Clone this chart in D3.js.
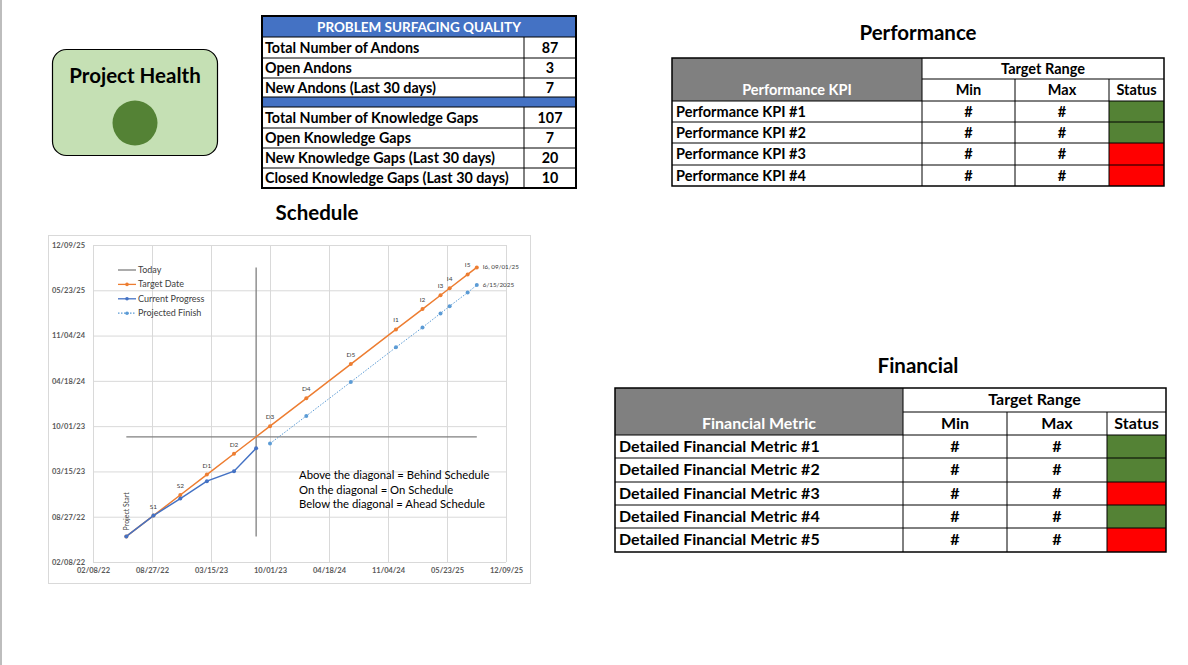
<!DOCTYPE html>
<html>
<head>
<meta charset="utf-8">
<script src="https://cdn.jsdelivr.net/npm/d3@7"></script>
<style>
  body { margin: 0; background: #fff; }
  svg { display: block; font-family: Lato, "Open Sans", sans-serif; }
</style>
</head>
<body>
<div id="chart"></div>
<script>
// ---- data ----
const tickDates = ["02/08/22", "08/27/22", "03/15/23", "10/01/23", "04/18/24", "11/04/24", "05/23/25", "12/09/25"]

const milestones = ["Project Start", "S1", "S2", "D1", "D2", "D3", "D4", "D5", "I1", "I2", "I3", "I4", "I5", "I6"]
const targetDates = ["06/01/22", "09/01/22", "12/01/22", "03/01/23", "06/01/23", "10/01/23", "02/01/24",
    "07/01/24", "12/01/24", "03/01/25", "05/01/25", "06/01/25", "08/01/25", "09/01/25"]

const todayDate = "08/15/23"
const progressX = ["06/01/22", "09/01/22", "12/01/22", "03/01/23", "06/01/23", "08/15/23"]
const progressY = ["06/01/22", "09/01/22", "11/15/22", "01/31/23", "03/16/23", "06/25/23"]

const projectedX = ["10/01/23", "02/01/24", "07/01/24", "12/01/24", "03/01/25", "05/01/25", "06/01/25", "08/01/25", "09/01/25"]
const projectedY = ["07/16/23", "11/15/23", "04/13/24", "09/13/24", "12/10/24", "02/10/25", "03/14/25", "05/13/25", "06/15/25"]

const legendNames = ["Today", "Target Date", "Current Progress", "Projected Finish"]
const notes = ["Above the diagonal = Behind Schedule", "On the diagonal = On Schedule", "Below the diagonal = Ahead Schedule"]

const psqLabels1 = ["Total Number of Andons", "Open Andons", "New Andons (Last 30 days)"]
const psqValues1 = [87, 3, 7]
const psqLabels2 = ["Total Number of Knowledge Gaps", "Open Knowledge Gaps", "New Knowledge Gaps (Last 30 days)", "Closed Knowledge Gaps (Last 30 days)"]
const psqValues2 = [107, 7, 20, 10]

const perfNames = ["Performance KPI #1", "Performance KPI #2", "Performance KPI #3", "Performance KPI #4"]
const perfStatus = ["good", "good", "bad", "bad"]
const finNames = ["Detailed Financial Metric #1", "Detailed Financial Metric #2", "Detailed Financial Metric #3",
    "Detailed Financial Metric #4", "Detailed Financial Metric #5"]
const finStatus = ["good", "good", "bad", "good", "bad"]

const statusColor = { good: "#548235", bad: "#FF0000" }

// ---- page ----
const svg = d3.select("#chart").append("svg")
    .attr("width", 1188)
    .attr("height", 665)

svg.append("rect").attr("width", 1188).attr("height", 665).attr("fill", "#fff")
svg.append("line").attr("x1", 1).attr("x2", 1).attr("y1", 0).attr("y2", 665)
    .attr("stroke", "#bdbdbd").attr("stroke-width", 2)

// project health box
svg.append("rect")
    .attr("x", 52.5).attr("y", 49.5).attr("width", 165).attr("height", 106).attr("rx", 14)
    .attr("fill", "#C5E0B4").attr("stroke", "#000").attr("stroke-width", 1.2)
svg.append("text").attr("x", 135).attr("y", 83).attr("text-anchor", "middle")
    .attr("font-size", 20.5).attr("font-weight", "bold").text("Project Health")
svg.append("circle").attr("cx", 135).attr("cy", 123).attr("r", 22.5).attr("fill", "#548235")

// section titles
const titles = [["Performance", 918, 40], ["Schedule", 317, 220], ["Financial", 918, 373]]
svg.selectAll("text.title").data(titles).enter().append("text")
    .attr("class", "title")
    .attr("x", d => d[1]).attr("y", d => d[2])
    .attr("text-anchor", "middle").attr("font-size", 20.5).attr("font-weight", "bold")
    .text(d => d[0])

// ---- problem surfacing quality table ----
const psq = svg.append("g")
const psqL = 262, psqR = 576, psqV = 524
const psqRows1 = [37, 58, 78, 97]
const psqRows2 = [107, 128, 148, 168, 188]
psq.append("rect").attr("x", psqL).attr("y", 16).attr("width", psqR - psqL).attr("height", 21).attr("fill", "#4472C4")
psq.append("rect").attr("x", psqL).attr("y", 97).attr("width", psqR - psqL).attr("height", 10).attr("fill", "#4472C4")
psq.append("text").attr("x", (psqL + psqR) / 2).attr("y", 32).attr("text-anchor", "middle")
    .attr("fill", "#fff").attr("font-size", 13.5).attr("font-weight", "bold").text("PROBLEM SURFACING QUALITY")

function psqBlock(labels, values, rows) {
    labels.forEach((t, i) => {
        const y0 = rows[i], y1 = rows[i + 1]
        psq.append("text").attr("x", psqL + 3).attr("y", (y0 + y1) / 2 + 5)
            .attr("font-size", 14.3).attr("font-weight", "bold").text(t)
        psq.append("text").attr("x", 550).attr("y", (y0 + y1) / 2 + 5).attr("text-anchor", "middle")
            .attr("font-size", 14.3).attr("font-weight", "bold").text(values[i])
        psq.append("line").attr("x1", psqL).attr("x2", psqR).attr("y1", y1).attr("y2", y1).attr("stroke", "#000")
    })
    psq.append("line").attr("x1", psqV).attr("x2", psqV).attr("y1", rows[0]).attr("y2", rows[rows.length - 1]).attr("stroke", "#000")
}
psqBlock(psqLabels1, psqValues1, psqRows1)
psqBlock(psqLabels2, psqValues2, psqRows2)
psq.append("line").attr("x1", psqL).attr("x2", psqR).attr("y1", 37).attr("y2", 37).attr("stroke", "#000")
psq.append("line").attr("x1", psqL).attr("x2", psqR).attr("y1", 107).attr("y2", 107).attr("stroke", "#000")
psq.append("rect").attr("x", psqL).attr("y", 16).attr("width", psqR - psqL).attr("height", 172)
    .attr("fill", "none").attr("stroke", "#000").attr("stroke-width", 2)

// ---- KPI style tables ----
function kpiTable(title, names, status, cols, rows, fontSize) {
    const g = svg.append("g")
    const [c0, c1, c2, c3, c4] = cols
    g.append("rect").attr("x", c0).attr("y", rows[0]).attr("width", c1 - c0).attr("height", rows[2] - rows[0]).attr("fill", "#808080")
    g.append("text").attr("x", (c0 + c1) / 2).attr("y", (rows[1] + rows[2]) / 2 + 5).attr("text-anchor", "middle")
        .attr("fill", "#fff").attr("font-size", fontSize).attr("font-weight", "bold").text(title)
    g.append("text").attr("x", (c1 + c4) / 2).attr("y", (rows[0] + rows[1]) / 2 + 5).attr("text-anchor", "middle")
        .attr("font-size", fontSize).attr("font-weight", "bold").text("Target Range")
    const heads = [["Min", c1, c2], ["Max", c2, c3], ["Status", c3, c4]]
    heads.forEach(h => {
        g.append("text").attr("x", (h[1] + h[2]) / 2).attr("y", (rows[1] + rows[2]) / 2 + 5).attr("text-anchor", "middle")
            .attr("font-size", fontSize).attr("font-weight", "bold").text(h[0])
    })
    names.forEach((n, i) => {
        const y0 = rows[i + 2], y1 = rows[i + 3], ym = (y0 + y1) / 2 + 5
        g.append("rect").attr("x", c3).attr("y", y0).attr("width", c4 - c3).attr("height", y1 - y0).attr("fill", statusColor[status[i]])
        g.append("text").attr("x", c0 + 4).attr("y", ym).attr("font-size", fontSize).attr("font-weight", "bold").text(n)
        g.append("text").attr("x", (c1 + c2) / 2).attr("y", ym).attr("text-anchor", "middle")
            .attr("font-size", fontSize).attr("font-weight", "bold").text("#")
        g.append("text").attr("x", (c2 + c3) / 2).attr("y", ym).attr("text-anchor", "middle")
            .attr("font-size", fontSize).attr("font-weight", "bold").text("#")
    })
    const last = rows[rows.length - 1]
    g.append("line").attr("x1", c1).attr("x2", c4).attr("y1", rows[1]).attr("y2", rows[1]).attr("stroke", "#000")
    rows.slice(2, -1).forEach(y => g.append("line").attr("x1", c0).attr("x2", c4).attr("y1", y).attr("y2", y).attr("stroke", "#000"))
    g.append("line").attr("x1", c1).attr("x2", c1).attr("y1", rows[0]).attr("y2", last).attr("stroke", "#000")
    g.append("line").attr("x1", c2).attr("x2", c2).attr("y1", rows[1]).attr("y2", last).attr("stroke", "#000")
    g.append("line").attr("x1", c3).attr("x2", c3).attr("y1", rows[1]).attr("y2", last).attr("stroke", "#000")
    g.append("rect").attr("x", c0).attr("y", rows[0]).attr("width", c4 - c0).attr("height", last - rows[0])
        .attr("fill", "none").attr("stroke", "#000").attr("stroke-width", 1.5)
}
kpiTable("Performance KPI", perfNames, perfStatus, [672, 922, 1015, 1109, 1164], [58, 79, 101, 122, 143, 165, 186], 14.5)
kpiTable("Financial Metric", finNames, finStatus, [615, 903, 1007, 1107, 1166], [388, 412, 435, 458, 482, 505, 528, 552], 16)

// ---- schedule chart ----
const parse = d3.timeParse("%m/%d/%y")
const ticks = tickDates.map(parse)
const x = d3.scaleTime().domain([ticks[0], ticks[ticks.length - 1]]).range([93, 506])
const y = d3.scaleTime().domain([ticks[0], ticks[ticks.length - 1]]).range([562, 245])

const chart = svg.append("g")
chart.append("rect").attr("x", 48.5).attr("y", 235.5).attr("width", 482).attr("height", 348)
    .attr("fill", "#fff").attr("stroke", "#D9D9D9")

const fmt = d3.timeFormat("%m/%d/%y")
const xAxis = chart.append("g").attr("transform", "translate(0,562)")
    .call(d3.axisBottom(x).tickValues(ticks).tickFormat(fmt).tickSize(-317).tickPadding(6))
const yAxis = chart.append("g").attr("transform", "translate(93,0)")
    .call(d3.axisLeft(y).tickValues(ticks).tickFormat(fmt).tickSize(-413).tickPadding(8))
;[xAxis, yAxis].forEach(a => {
    a.select(".domain").remove()
    a.selectAll("line").attr("stroke", "#D9D9D9")
    a.selectAll("text").attr("fill", "#595959").attr("font-size", 7.5).attr("font-weight", "bold")
        .attr("font-family", "Lato, sans-serif")
})

// today lines
const today = parse(todayDate)
const start = parse(targetDates[0]), end = parse(targetDates[targetDates.length - 1])
chart.append("line").attr("x1", x(today)).attr("x2", x(today)).attr("y1", y(start)).attr("y2", y(end))
    .attr("stroke", "#7F7F7F").attr("stroke-width", 1.3)
chart.append("line").attr("x1", x(start)).attr("x2", x(end)).attr("y1", y(today)).attr("y2", y(today))
    .attr("stroke", "#7F7F7F").attr("stroke-width", 1.3)

const line = d3.line().x(d => x(d[0])).y(d => y(d[1]))

const target = targetDates.map(d => [parse(d), parse(d)])
const progress = progressX.map((d, i) => [parse(d), parse(progressY[i])])
const projected = projectedX.map((d, i) => [parse(d), parse(projectedY[i])])

function series(pts, color, width, dash) {
    chart.append("path").datum(pts).attr("d", line).attr("fill", "none")
        .attr("stroke", color).attr("stroke-width", width).attr("stroke-dasharray", dash)
    chart.selectAll(null).data(pts).enter().append("circle")
        .attr("cx", d => x(d[0])).attr("cy", d => y(d[1])).attr("r", 2).attr("fill", color)
}
series(target, "#ED7D31", 1.5, null)
series(projected, "#5B9BD5", 1, "1.5,1.5")
series(progress, "#4472C4", 1.5, null)

// point labels
chart.selectAll("text.ms").data(target.slice(1, -1)).enter().append("text")
    .attr("class", "ms")
    .attr("x", d => x(d[0])).attr("y", d => y(d[1]) - 7)
    .attr("text-anchor", "middle").attr("font-size", 6.5).attr("fill", "#404040")
    .text((d, i) => milestones[i + 1])
chart.append("text")
    .attr("transform", `translate(${x(start) + 3},${y(start) - 6}) rotate(-90)`)
    .attr("font-size", 7).attr("fill", "#404040").text(milestones[0])
chart.append("text").attr("x", x(end) + 6).attr("y", y(end) + 2)
    .attr("font-size", 6.3).attr("fill", "#404040")
    .text(milestones[milestones.length - 1] + ", " + fmt(end))
const lastProj = projected[projected.length - 1]
chart.append("text").attr("x", x(lastProj[0]) + 6).attr("y", y(lastProj[1]) + 2)
    .attr("font-size", 6.3).attr("fill", "#404040")
    .text(d3.timeFormat("%-m/%d/%Y")(lastProj[1]))

// legend
const legendStyle = [["#7F7F7F", null, false], ["#ED7D31", null, true], ["#4472C4", null, true], ["#5B9BD5", "1.5,1.5", true]]
const legend = chart.selectAll("g.leg").data(legendNames).enter().append("g")
    .attr("class", "leg")
    .attr("transform", (d, i) => `translate(118,${270 + i * 14.4})`)
legend.append("line").attr("x1", 0).attr("x2", 18)
    .attr("stroke", (d, i) => legendStyle[i][0]).attr("stroke-width", 1.3)
    .attr("stroke-dasharray", (d, i) => legendStyle[i][1])
legend.filter((d, i) => legendStyle[i][2]).append("circle")
    .attr("cx", 9).attr("r", 1.8).attr("fill", (d) => legendStyle[legendNames.indexOf(d)][0])
legend.append("text").attr("x", 20).attr("y", 3)
    .attr("font-size", 9).attr("fill", "#404040").text(d => d)

// notes
chart.selectAll("text.note").data(notes).enter().append("text")
    .attr("class", "note")
    .attr("x", 299).attr("y", (d, i) => 479 + i * 14.5)
    .attr("font-size", 11.3).attr("fill", "#000").text(d => d)
</script>
</body>
</html>
